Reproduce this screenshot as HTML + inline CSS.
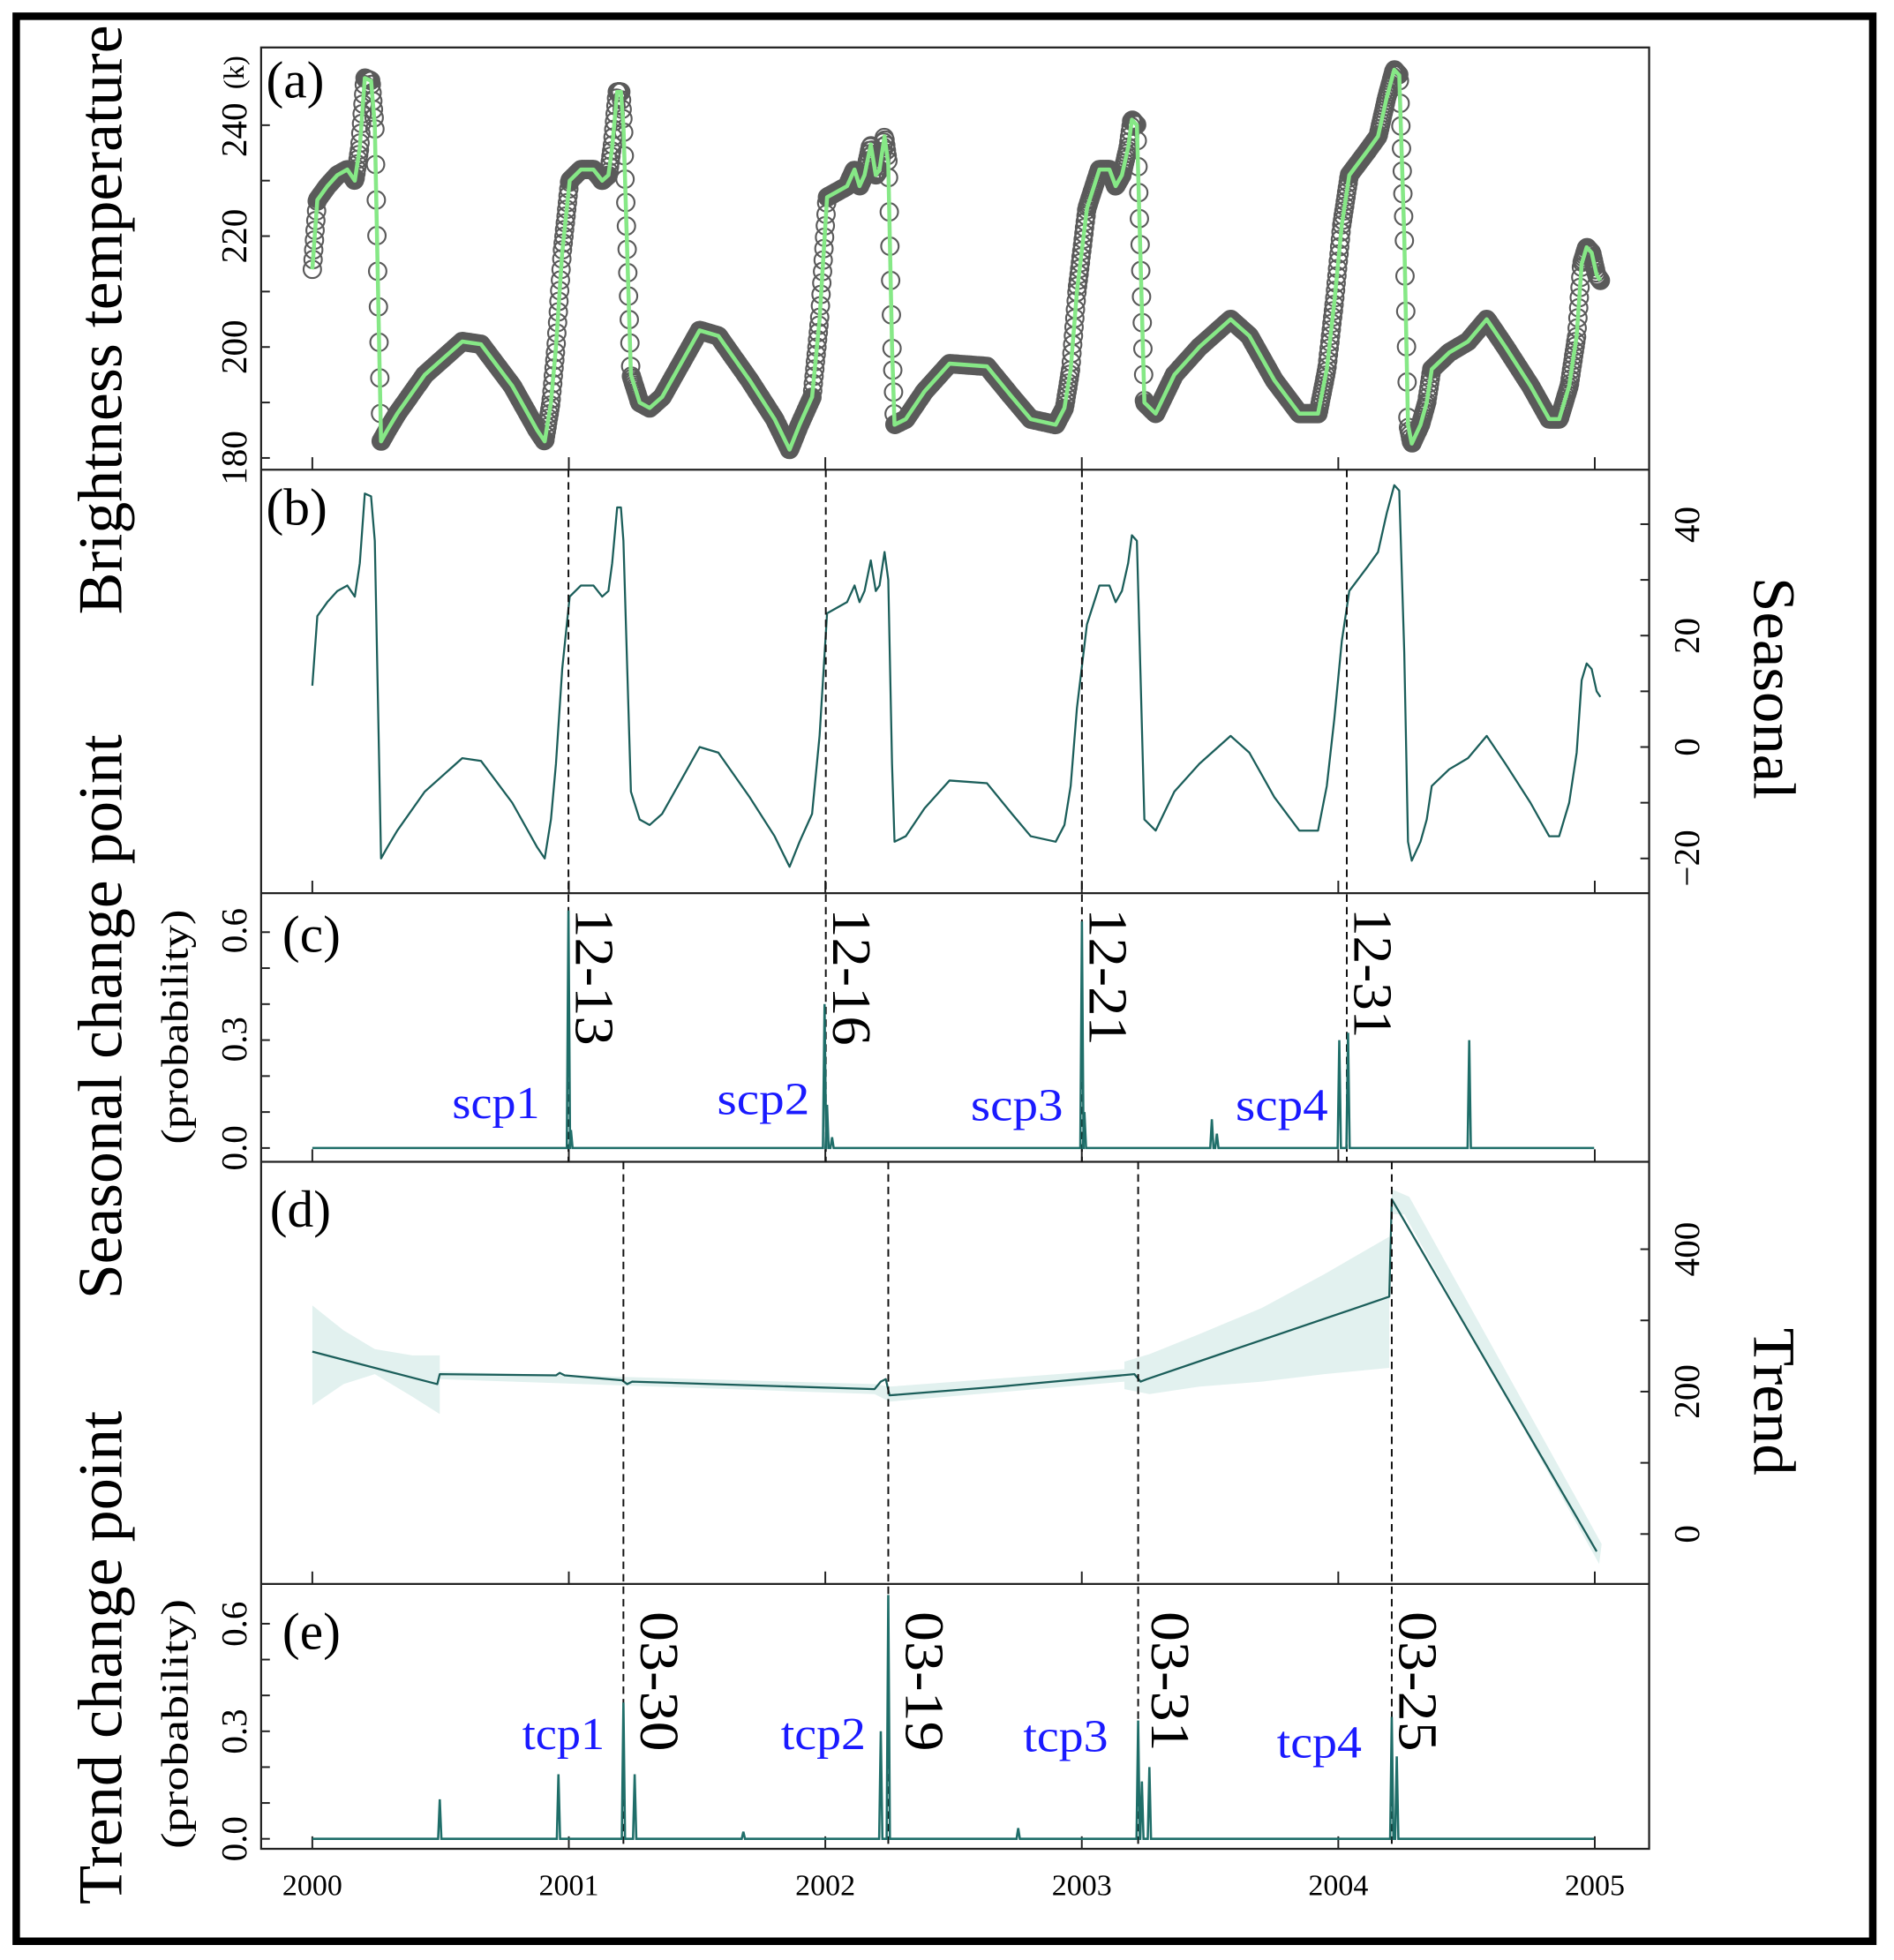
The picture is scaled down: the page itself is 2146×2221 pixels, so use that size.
<!DOCTYPE html>
<html><head><meta charset="utf-8"><style>
html,body{margin:0;padding:0;background:#fff;}
svg{display:block;}
text{font-family:"Liberation Serif",serif;}
</style></head><body>
<svg id="s" width="2146" height="2221" viewBox="0 0 1516 1569" preserveAspectRatio="none" xmlns="http://www.w3.org/2000/svg">
<rect x="0" y="0" width="1516" height="1569" fill="#fff"/>
<rect x="13" y="13" width="1486" height="1541" fill="none" stroke="#000" stroke-width="6"/>
<g id="bands"></g>
<g id="data"></g>
<g fill="none" stroke="#222" stroke-width="1.6">
<rect x="209" y="38" width="1111" height="1442"/>
<line x1="209" y1="376" x2="1320" y2="376"/>
<line x1="209" y1="715" x2="1320" y2="715"/>
<line x1="209" y1="930" x2="1320" y2="930"/>
<line x1="209" y1="1268" x2="1320" y2="1268"/>
</g>
<g id="ticks" stroke="#222" stroke-width="1.4"></g>
<g stroke="#111" stroke-width="1.4" stroke-dasharray="6 4">
<line x1="455" y1="376" x2="455" y2="930"/><line x1="661" y1="376" x2="661" y2="930"/>
<line x1="866" y1="376" x2="866" y2="930"/><line x1="1078" y1="376" x2="1078" y2="930"/>
<line x1="499" y1="930" x2="499" y2="1480"/><line x1="711" y1="930" x2="711" y2="1480"/>
<line x1="911" y1="930" x2="911" y2="1480"/><line x1="1114" y1="930" x2="1114" y2="1480"/>
</g>
<g id="spikes"></g>
<g fill="#000">
<text transform="translate(97,256) rotate(-90)" text-anchor="middle" font-size="50" textLength="472" lengthAdjust="spacingAndGlyphs">Brightness temperature</text>
<text transform="translate(97,814) rotate(-90)" text-anchor="middle" font-size="50" textLength="452" lengthAdjust="spacingAndGlyphs">Seasonal change point</text>
<text transform="translate(97,1327) rotate(-90)" text-anchor="middle" font-size="50" textLength="395" lengthAdjust="spacingAndGlyphs">Trend change point</text>
<text transform="translate(150,822) rotate(-90)" text-anchor="middle" font-size="31" textLength="188" lengthAdjust="spacingAndGlyphs">(probability)</text>
<text transform="translate(150,1380) rotate(-90)" text-anchor="middle" font-size="31" textLength="200" lengthAdjust="spacingAndGlyphs">(probability)</text>
<text transform="translate(1404,551) rotate(90)" text-anchor="middle" font-size="48" textLength="178" lengthAdjust="spacingAndGlyphs">Seasonal</text>
<text transform="translate(1404,1122) rotate(90)" text-anchor="middle" font-size="48" textLength="118" lengthAdjust="spacingAndGlyphs">Trend</text>
<text transform="translate(195,58) rotate(-90)" text-anchor="middle" font-size="23">(k)</text>
<g font-size="29" text-anchor="middle">
<text transform="translate(197,366.6) rotate(-90)">180</text>
<text transform="translate(197,277.8) rotate(-90)">200</text>
<text transform="translate(197,189) rotate(-90)">220</text>
<text transform="translate(197,104) rotate(-90)">240</text>
<text transform="translate(197,919) rotate(-90)">0.0</text>
<text transform="translate(197,832) rotate(-90)">0.3</text>
<text transform="translate(197,745) rotate(-90)">0.6</text>
<text transform="translate(197,1472) rotate(-90)">0.0</text>
<text transform="translate(197,1386) rotate(-90)">0.3</text>
<text transform="translate(197,1300) rotate(-90)">0.6</text>
<text transform="translate(1360,420) rotate(-90)">40</text>
<text transform="translate(1360,509) rotate(-90)">20</text>
<text transform="translate(1360,598) rotate(-90)">0</text>
<text transform="translate(1360,687) rotate(-90)">−20</text>
<text transform="translate(1360,1000) rotate(-90)">400</text>
<text transform="translate(1360,1114) rotate(-90)">200</text>
<text transform="translate(1360,1228) rotate(-90)">0</text>
</g>
<g font-size="24" text-anchor="middle">
<text x="250" y="1517">2000</text><text x="455.3" y="1517">2001</text><text x="660.6" y="1517">2002</text>
<text x="865.9" y="1517">2003</text><text x="1071.2" y="1517">2004</text><text x="1276.5" y="1517">2005</text>
</g>
<g font-size="42">
<text x="213" y="78">(a)</text><text x="213" y="420">(b)</text><text x="226" y="762">(c)</text>
<text x="216" y="982">(d)</text><text x="226" y="1320">(e)</text>
</g>
<g font-size="44">
<text transform="translate(461,727) rotate(90)" textLength="110" lengthAdjust="spacingAndGlyphs">12-13</text>
<text transform="translate(667,727) rotate(90)" textLength="110" lengthAdjust="spacingAndGlyphs">12-16</text>
<text transform="translate(872,727) rotate(90)" textLength="110" lengthAdjust="spacingAndGlyphs">12-21</text>
<text transform="translate(1084,727) rotate(90)" textLength="104" lengthAdjust="spacingAndGlyphs">12-31</text>
<text transform="translate(513,1290) rotate(90)" textLength="112" lengthAdjust="spacingAndGlyphs">03-30</text>
<text transform="translate(725,1290) rotate(90)" textLength="112" lengthAdjust="spacingAndGlyphs">03-19</text>
<text transform="translate(922,1290) rotate(90)" textLength="112" lengthAdjust="spacingAndGlyphs">03-31</text>
<text transform="translate(1120,1290) rotate(90)" textLength="112" lengthAdjust="spacingAndGlyphs">03-25</text>
</g>
<g font-size="37" fill="#1a1aff" text-anchor="middle">
<text x="397" y="895" textLength="70" lengthAdjust="spacingAndGlyphs">scp1</text>
<text x="611" y="892" textLength="74" lengthAdjust="spacingAndGlyphs">scp2</text>
<text x="814" y="897" textLength="74" lengthAdjust="spacingAndGlyphs">scp3</text>
<text x="1026" y="897" textLength="74" lengthAdjust="spacingAndGlyphs">scp4</text>
<text x="451" y="1400" textLength="66" lengthAdjust="spacingAndGlyphs">tcp1</text>
<text x="659" y="1400" textLength="68" lengthAdjust="spacingAndGlyphs">tcp2</text>
<text x="853" y="1402" textLength="68" lengthAdjust="spacingAndGlyphs">tcp3</text>
<text x="1056" y="1407" textLength="68" lengthAdjust="spacingAndGlyphs">tcp4</text>
</g>
</g>
</svg>
<script>
(function(){
var NS="http://www.w3.org/2000/svg";
function el(tag,attrs,parent){var e=document.createElementNS(NS,tag);for(var k in attrs)e.setAttribute(k,attrs[k]);parent.appendChild(e);return e;}
var data=document.getElementById("data"),bands=document.getElementById("bands"),ticks=document.getElementById("ticks"),spk=document.getElementById("spikes");
var P=[[250,214],[254,226.5],[262,229],[270,231],[278,232],[284,230],[288,236],[292,248.5],[297,248],[300,240],[305,183],[310,185],[318,188],[340,195],[355,198],[370,201],[385,200.5],[410,193],[430,185],[436,183],[441,190],[445,200],[450,217],[456,230],[465,232],[475,232],[482,230],[487,231],[490,236],[494,246],[497,246],[499,240],[505,195],[512,190],[520,189],[530,191],[545,197],[560,203],[575,202],[600,194],[620,187],[632,181.5],[640,186],[650,191],[656,205],[662,227],[670,228],[678,229],[684,232],[688,229],[692,231],[697,236.5],[701,231],[704,232],[708,238],[711,233],[714,200],[716,186],[725,187],[740,192],[760,197],[790,196.5],[810,191],[825,187],[845,186],[852,189],[857,196],[862,210],[870,225],[880,232],[888,232],[893,229],[898,231],[903,236],[906,241],[910,240],[913,215],[916,190],[925,188],[940,195],[960,200],[985,205],[1000,202],[1020,194],[1040,188],[1055,188],[1062,196],[1068,208],[1074,222],[1080,231],[1095,235.5],[1103,238],[1110,245],[1116,250],[1120,249],[1124,220],[1127,186],[1130,182.6],[1137,186],[1142,190],[1146,196],[1160,199],[1175,201],[1190,205],[1205,200],[1225,193],[1240,187],[1248,187],[1256,193],[1262,202],[1266,215],[1270,218],[1274,217],[1278,213],[1281,212]];
function Ta(t){return 366.6-4.44*(t-180);}
function interp(x){for(var i=1;i<P.length;i++){if(x<=P[i][0]){var a=P[i-1],b=P[i];var f=(x-a[0])/(b[0]-a[0]);return a[1]+f*(b[1]-a[1]);}}return P[P.length-1][1];}
var d="";var step=205.3/365;
for(var x=250;x<=1281;x+=step){var y=Ta(interp(x));d+="M"+(x-7).toFixed(1)+" "+y.toFixed(1)+"a7 7 0 1 0 14 0a7 7 0 1 0 -14 0";}
el("path",{d:d,fill:"none",stroke:"#5a5a5a","stroke-width":"1.5"},data);
var pa=P.map(function(p){return p[0]+","+Ta(p[1]).toFixed(1);}).join(" ");
el("polyline",{points:pa,fill:"none",stroke:"#86e886","stroke-width":"3.2","stroke-linejoin":"round"},data);
var pb=P.map(function(p){return p[0]+","+(598-4.46*(p[1]-203)).toFixed(1);}).join(" ");
el("polyline",{points:pb,fill:"none",stroke:"#1b5e5a","stroke-width":"1.6","stroke-linejoin":"round"},data);
var bc="#e2f1ef";
el("polygon",{points:"250,1045 275,1065 300,1080 330,1085 352,1085 352,1132 330,1118 300,1100 275,1108 250,1125",fill:bc},bands);
el("polygon",{points:"352,1098 700,1108 712,1110 900,1096 1112,1032 1112,1044 900,1106 712,1122 700,1116 352,1104",fill:bc},bands);
el("polygon",{points:"900,1090 920,1084 960,1068 1010,1047 1060,1020 1112,990 1112,1095 1060,1100 1010,1106 960,1110 920,1116 900,1112",fill:bc},bands);
el("polygon",{points:"1114,952 1128,958 1282,1236 1280,1252 1124,972 1114,972",fill:bc},bands);
var tr="250,1082 350,1108 352,1100 445,1101 448,1099 452,1101 498,1105 502,1108 506,1106 700,1112 705,1106 709,1104 712,1117 800,1110 908,1100 913,1106 918,1104 1112,1038 1114,960 1278,1242";
el("polyline",{points:tr,fill:"none",stroke:"#1b5e5a","stroke-width":"1.6","stroke-linejoin":"round"},data);
function spikes(base,scale,list){var s="M250 "+base;list.forEach(function(q){s+="L"+(q[0]-1.3)+" "+base+"L"+q[0]+" "+(base-scale*q[1]).toFixed(1)+"L"+(q[0]+1.3)+" "+base;});s+="L1276 "+base;el("path",{d:s,fill:"none",stroke:"#1f6e69","stroke-width":"1.8"},spk);}
spikes(919,288,[[455,0.66],[457,0.05],[660,0.4],[662,0.12],[666,0.03],[866,0.63],[868,0.1],[970,0.08],[974,0.04],[1072,0.3],[1079,0.32],[1176,0.3]]);
spikes(1472,287,[[352,0.11],[447,0.18],[499,0.38],[508,0.18],[595,0.02],[705,0.3],[711,0.68],[815,0.03],[911,0.33],[914,0.16],[920,0.2],[1114,0.34],[1118,0.23]]);
var bottoms=[376,715,930,1268,1480];
bottoms.forEach(function(b){for(var k=0;k<=5;k++){var x=250+205.3*k;el("line",{x1:x,y1:b,x2:x,y2:b-10},ticks);}});
for(var t=180;t<=240;t+=10){var y=Ta(t);el("line",{x1:209,y1:y,x2:216,y2:y},ticks);}
for(var p=0;p<=6;p++){var y1=919-28.8*p;el("line",{x1:209,y1:y1,x2:216,y2:y1},ticks);var y2=1472-28.7*p;el("line",{x1:209,y1:y2,x2:216,y2:y2},ticks);}
for(var s=-20;s<=40;s+=10){var y=598-4.46*s;el("line",{x1:1320,y1:y,x2:1313,y2:y},ticks);}
for(var v=0;v<=400;v+=100){var y=1228-0.57*v;el("line",{x1:1320,y1:y,x2:1313,y2:y},ticks);}
})();
</script>
</body></html>
